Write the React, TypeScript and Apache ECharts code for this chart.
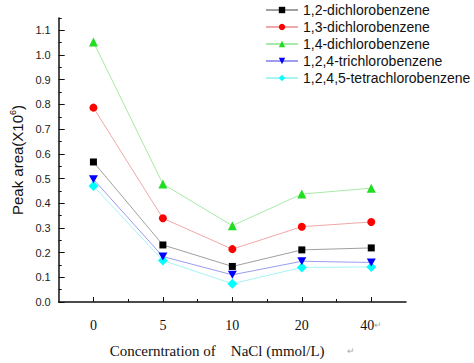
import React, { useEffect, useRef } from "react";
import * as echarts from "echarts";

const categories = ["0", "5", "10", "20", "40"];
const seriesNames = [
  "1,2-dichlorobenzene",
  "1,3-dichlorobenzene",
  "1,4-dichlorobenzene",
  "1,2,4-trichlorobenzene",
  "1,2,4,5-tetrachlorobenzene",
];
const dcb12 = [0.567, 0.231, 0.144, 0.211, 0.219];
const dcb13 = [0.787, 0.339, 0.214, 0.305, 0.324];
const dcb14 = [1.053, 0.478, 0.309, 0.437, 0.461];
const tcb124 = [0.497, 0.184, 0.11, 0.165, 0.16];
const tecb1245 = [0.47, 0.168, 0.074, 0.14, 0.142];
const yMajorTicks = [0, 0.1, 0.2, 0.3, 0.4, 0.5, 0.6, 0.7, 0.8, 0.9, 1.0, 1.1];
const yMinorTicks = [0.05, 0.15, 0.25, 0.35, 0.45, 0.55, 0.65, 0.75, 0.85, 0.95, 1.05, 1.15];
const xMinorTicks = [0.5, 1.5, 2.5, 3.5];

const markerColors = ["#000000", "#ff0000", "#22dd22", "#0000ff", "#00ffff"];
const lineColors = ["#a0a0a0", "#f0a8a8", "#a8eaa8", "#9c9cf0", "#a8f4f4"];
const symbols = ["rect", "circle", "triangle", "path://M0,0 L10,0 L5,9 Z", "diamond"];
const symbolSizes = [7, 8, 9, 9, 10];

export default function App() {
  const ref = useRef<HTMLDivElement>(null);
  useEffect(() => {
    if (!ref.current) return;
    const chart = echarts.init(ref.current, null, { renderer: "svg" });
    const allData = [dcb12, dcb13, dcb14, tcb124, tecb1245];
    const sans = "Liberation Sans, Arial, sans-serif";
    const serif = "Liberation Serif, Times New Roman, serif";
    chart.setOption({
      animation: false,
      backgroundColor: "#ffffff",
      grid: { left: 47, right: 68, top: 18, bottom: 60 },
      legend: {
        orient: "vertical",
        left: 265,
        top: 2,
        padding: 0,
        itemWidth: 32,
        itemHeight: 8,
        itemGap: 1,
        textStyle: { fontFamily: sans, fontSize: 14, color: "#111", lineHeight: 16 },
        data: seriesNames,
      },
      xAxis: [
        {
          type: "value",
          min: -0.5,
          max: 4.5,
          splitLine: { show: false },
          axisLine: { show: true, onZero: false, lineStyle: { color: "#111", width: 1.5 } },
          axisTick: {
            show: true,
            inside: true,
            length: 5,
            customValues: categories.map((_, i) => i),
            lineStyle: { color: "#111" },
          },
          axisLabel: {
            customValues: categories.map((_, i) => i),
            margin: 16,
            fontFamily: serif,
            fontSize: 14,
            color: "#111",
            formatter: (v: number) => {
              const c = categories[Math.round(v)] ?? "";
              return Math.round(v) === categories.length - 1 ? c + "{r|\u21b5}" : c;
            },
            rich: { r: { fontSize: 9, color: "#aaa", fontFamily: serif } },
          },
          name: "Concerntration\u00a0of\u00a0\u00a0\u00a0 NaCl\u00a0(mmol/L)\u00a0\u00a0\u00a0\u00a0\u00a0 {r|\u21b5}",
          nameLocation: "middle",
          nameGap: 41,
          nameTextStyle: {
            fontFamily: serif,
            fontSize: 15,
            color: "#111",
            rich: { r: { fontSize: 9, color: "#aaa", fontFamily: serif } },
          },
        },
        {
          type: "value",
          min: -0.5,
          max: 4.5,
          position: "bottom",
          splitLine: { show: false },
          axisLine: { show: false, onZero: false },
          axisLabel: { show: false },
          axisTick: {
            show: true,
            inside: true,
            length: 3,
            customValues: xMinorTicks,
            lineStyle: { color: "#111" },
          },
        },
      ],
      yAxis: [
        {
          type: "value",
          min: 0,
          max: 1.15,
          splitLine: { show: false },
          axisLine: { show: true, onZero: false, lineStyle: { color: "#111", width: 1.5 } },
          axisTick: {
            show: true,
            inside: true,
            length: 6,
            customValues: yMajorTicks,
            lineStyle: { color: "#111" },
          },
          axisLabel: {
            customValues: yMajorTicks,
            margin: 8,
            fontFamily: sans,
            fontSize: 11,
            color: "#222",
            formatter: (v: number) => v.toFixed(1),
          },
          name: "{a|Peak area(X10}{s|6}{a|)}",
          nameLocation: "middle",
          nameGap: 28,
          nameRotate: 90,
          nameTextStyle: {
            rich: {
              a: { fontFamily: sans, fontSize: 15, color: "#111", lineHeight: 18 },
              s: { fontFamily: sans, fontSize: 9, color: "#111", verticalAlign: "top", lineHeight: 18 },
            },
          },
        },
        {
          type: "value",
          min: 0,
          max: 1.15,
          position: "left",
          splitLine: { show: false },
          axisLine: { show: false, onZero: false },
          axisLabel: { show: false },
          axisTick: {
            show: true,
            inside: true,
            length: 3,
            customValues: yMinorTicks,
            lineStyle: { color: "#111" },
          },
        },
      ],
      series: allData.map((vals, si) => ({
        name: seriesNames[si],
        type: "line",
        xAxisIndex: 0,
        yAxisIndex: 0,
        data: vals.map((v, i) => [i, v]),
        symbol: symbols[si],
        symbolSize: si === 3 ? [9, 8] : symbolSizes[si],
        itemStyle: { color: markerColors[si] },
        lineStyle: { color: lineColors[si], width: 1 },
        z: 10 - si,
      })),
    });
    return () => chart.dispose();
  }, []);
  return (
    <div
      ref={ref}
      style={{ position: "absolute", left: 0, top: 0, width: 474, height: 363 }}
    />
  );
}
